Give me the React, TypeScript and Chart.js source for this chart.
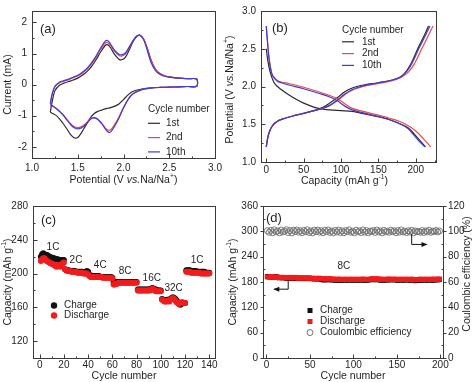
import React, { useEffect, useRef } from 'react';
import { Chart, registerables } from 'chart.js';

Chart.register(...registerables);

const FONT = '"Liberation Sans", Arial, Helvetica, sans-serif';
const TXT = '#1f1f1f';
const AXIS = '#3a3a3a';
const C_BLACK = '#2b2b2b';
const C_RED = '#f0474c';
const C_BLUE = '#3c3cd8';
const C_DOT_BLACK = '#121212';
const C_DOT_RED = '#f21c1c';
const C_CIRCLE = '#6e6e6e';

// ---------- (a) cyclic voltammetry ----------
const cvUpPotential = [1.20,1.22,1.25,1.30,1.35,1.40,1.45,1.50,1.55,1.60,1.65,1.70,1.75,1.80,1.83,1.86,1.90,1.95,1.98,2.02,2.06,2.10,2.14,2.18,2.22,2.26,2.30,2.35,2.40,2.45,2.50,2.60,2.70,2.80];
const cvDownPotential = [2.80,2.70,2.60,2.50,2.40,2.30,2.20,2.10,2.05,2.00,1.95,1.90,1.86,1.83,1.80,1.76,1.72,1.68,1.65,1.62,1.58,1.54,1.50,1.46,1.42,1.38,1.34,1.30,1.26,1.22,1.20];
const cv1stUp = [-0.88,-0.55,-0.20,-0.02,0.05,0.10,0.15,0.21,0.30,0.42,0.58,0.80,1.05,1.26,1.28,1.18,0.98,0.82,0.80,0.88,1.10,1.36,1.54,1.58,1.46,1.17,0.80,0.48,0.35,0.28,0.25,0.21,0.19,0.18];
const cv1stDown = [-0.05,-0.06,-0.07,-0.08,-0.09,-0.10,-0.14,-0.22,-0.33,-0.48,-0.62,-0.70,-0.74,-0.76,-0.78,-0.82,-0.86,-0.93,-1.02,-1.15,-1.35,-1.55,-1.70,-1.71,-1.60,-1.42,-1.25,-1.10,-0.98,-0.92,-0.88];
const cv2ndUp = [-0.62,-0.32,-0.07,0.06,0.11,0.16,0.22,0.28,0.37,0.49,0.66,0.88,1.13,1.34,1.35,1.25,1.08,0.94,0.92,0.98,1.17,1.39,1.55,1.59,1.47,1.16,0.80,0.50,0.36,0.29,0.25,0.21,0.19,0.18];
const cv2ndDown = [-0.05,-0.06,-0.07,-0.08,-0.09,-0.11,-0.16,-0.30,-0.47,-0.73,-1.04,-1.30,-1.45,-1.46,-1.39,-1.23,-1.11,-1.06,-1.08,-1.15,-1.27,-1.35,-1.38,-1.35,-1.25,-1.11,-0.96,-0.85,-0.75,-0.67,-0.64];
const cv10thUp = [-0.60,-0.30,-0.05,0.08,0.13,0.18,0.24,0.30,0.40,0.52,0.70,0.92,1.18,1.40,1.41,1.30,1.12,0.98,0.96,1.02,1.20,1.40,1.55,1.60,1.45,1.10,0.72,0.45,0.33,0.27,0.24,0.21,0.19,0.18];
const cv10thDown = [-0.05,-0.06,-0.07,-0.08,-0.09,-0.11,-0.16,-0.30,-0.48,-0.75,-1.08,-1.35,-1.52,-1.52,-1.42,-1.25,-1.12,-1.07,-1.09,-1.17,-1.30,-1.39,-1.42,-1.39,-1.28,-1.13,-0.98,-0.86,-0.76,-0.68,-0.65];
const cycleLabels = ['1st', '2nd', '10th'];

// ---------- (b) charge / discharge profiles ----------
const bDisCap1 = [0,2,5,10,15,20,30,40,50,60,70,85,100,115,130,150,165,180,190,198,205,213];
const bDisV1 = [2.50,2.35,2.20,2.06,2.00,1.96,1.89,1.83,1.78,1.74,1.71,1.69,1.68,1.67,1.64,1.60,1.56,1.50,1.45,1.37,1.29,1.20];
const bDisCap2 = [0,2,4,7,10,15,20,30,50,70,85,95,105,115,130,150,165,180,190,200,210,220];
const bDisV2 = [2.80,2.56,2.36,2.19,2.13,2.08,2.06,2.04,1.99,1.93,1.88,1.84,1.77,1.71,1.67,1.62,1.58,1.53,1.48,1.41,1.31,1.20];
const bDisCap10 = [0,2,4,7,10,15,20,30,50,70,85,95,105,115,130,150,165,180,190,198,205,212];
const bDisV10 = [2.80,2.55,2.35,2.18,2.12,2.07,2.05,2.02,1.97,1.91,1.86,1.81,1.74,1.69,1.65,1.60,1.56,1.50,1.44,1.35,1.27,1.20];
const bChgCap1 = [0,2,5,10,15,25,40,60,75,85,95,105,115,130,150,170,180,188,195,203,210,217];
const bChgV1 = [1.20,1.32,1.42,1.50,1.54,1.58,1.62,1.67,1.72,1.78,1.85,1.93,1.98,2.02,2.05,2.09,2.13,2.21,2.33,2.51,2.65,2.80];
const bChgCap2 = [0,2,5,10,15,25,40,60,75,85,95,105,115,130,150,170,180,190,198,206,214,223];
const bChgV2 = [1.20,1.32,1.42,1.50,1.54,1.58,1.62,1.67,1.71,1.75,1.81,1.89,1.95,2.00,2.04,2.08,2.12,2.19,2.30,2.46,2.62,2.80];
const bChgCap10 = [0,2,5,10,15,25,40,60,75,85,95,105,115,130,150,170,180,188,195,203,210,219];
const bChgV10 = [1.20,1.32,1.42,1.50,1.54,1.58,1.62,1.67,1.71,1.75,1.82,1.90,1.96,2.01,2.05,2.09,2.13,2.20,2.31,2.48,2.62,2.80];

// ---------- (c) rate capability ----------
const cCharge = [
  220,223,224,223,222,222,221,220,219,219,218,218,217,217,217,216,216,216,216,216,
  205,204,204,204,203,203,203,203,203,202,202,202,202,202,202,201,201,202,203,202,
  198,198,197,197,197,197,197,197,197,196,196,196,196,196,196,196,196,196,196,195,
  190,190,190,190,190,190,190,190,190,190,190,190,190,190,190,190,190,190,190,190,
  181,181,181,181,181,181,181,181,181,181,181,182,183,182,181,181,180,180,180,180,
  170,169,168,168,169,169,169,170,171,172,171,170,168,166,164,163,164,165,165,165,
  204,204,204,204,203,203,203,203,203,202,202,202,202,202,202,202,201,201,201,201,
];
const cDischarge = [
  215,217,218,218,216,215,214,213,212,212,211,210,209,208,210,209,208,211,212,213,
  205,204,203,203,203,202,202,202,202,202,201,201,201,201,201,200,200,200,200,199,
  197,196,196,196,196,196,196,196,196,196,196,195,195,195,195,195,195,195,195,194,
  187,187,188,188,189,189,189,189,189,189,189,189,189,189,189,189,189,189,189,189,
  180,180,180,180,180,180,180,180,180,180,180,181,182,181,180,179,179,179,179,179,
  169,168,167,167,167,168,167,169,170,171,170,168,166,165,164,165,166,166,165,165,
  202,202,202,202,201,201,201,201,201,201,201,201,200,200,200,200,200,200,200,200,
];
const cRateLabels = ['1C', '2C', '4C', '8C', '16C', '32C', '1C'];
const cRateLabelCycle = [11, 30, 50, 70.5, 92.5, 110.5, 130];
const cRateLabelCap = [231, 215.5, 210, 203, 194, 183, 215.5];

// ---------- (d) long cycling at 8C (every second cycle) ----------
const dCharge = [
  193,193,192,191,192,193,191,190,191,190,
  190,189,188,190,189,188,190,189,188,189,
  189,188,189,188,189,188,188,187,188,187,
  188,186,185,185,186,185,186,185,185,184,
  185,184,185,184,185,185,184,185,185,184,
  185,185,184,185,185,184,185,184,185,185,
  186,186,185,186,186,184,185,184,185,185,
  185,185,186,185,185,184,185,185,184,185,
  185,185,184,185,185,183,184,184,185,184,
  185,185,184,185,185,184,185,185,185,186,
];
const dDischarge = [
  192,191,193,192,191,192,191,190,191,190,
  191,190,190,191,190,190,191,190,189,190,
  190,189,190,189,190,189,189,188,189,188,
  189,188,188,187,188,187,188,187,187,186,
  187,186,187,186,186,187,186,186,187,186,
  186,187,186,186,187,186,187,186,186,187,
  188,187,187,188,187,186,187,186,186,187,
  187,186,187,186,187,186,186,187,186,186,
  187,186,186,187,186,185,186,186,187,186,
  186,187,186,186,187,186,187,186,187,187,
];
const dEfficiency = [
  100.5,99.2,100.8,98.9,101.2,99.6,100.3,98.8,101.0,99.5,
  100.2,101.3,99.0,100.6,98.7,100.9,99.8,101.1,99.3,100.4,
  98.9,100.7,99.6,101.2,99.1,100.3,98.8,100.9,99.7,101.0,
  99.4,100.5,98.9,100.8,99.6,101.1,99.2,100.2,98.8,100.7,
  99.5,101.0,99.1,100.4,98.9,100.6,99.7,101.2,99.3,100.1,
  98.8,100.9,99.6,100.3,99.0,101.1,99.4,100.6,98.9,100.2,
  99.8,100.7,99.1,101.0,99.5,100.3,98.8,100.8,99.6,100.1,
  99.2,100.9,99.7,100.4,98.9,100.6,99.3,101.1,99.5,100.2,
  99.0,100.5,99.4,100.8,98.8,100.3,99.7,99.9,99.3,100.6,
  99.1,100.4,99.6,100.9,99.2,100.1,99.8,100.7,99.5,100.3,
];

// ---------- helpers ----------
const pts = (xs: number[], ys: number[]) => xs.map((x, i) => ({ x, y: ys[i] }));
const cvX = [...cvUpPotential, ...cvDownPotential];
const cCycles = cCharge.map((_, i) => i + 1);
const dCycles = dDischarge.map((_, i) => 2 * i + 1);

const common: any = {
  animation: false,
  responsive: false,
  maintainAspectRatio: false,
  events: [],
  plugins: { legend: { display: false }, tooltip: { enabled: false } },
};

function axis(min: number, max: number, step: number, fmt: (v: number) => string, size: number, pad: number, position: string, extra: any = {}) {
  return {
    type: 'linear',
    position,
    min,
    max,
    afterFit: (s: any) => {
      if (s.isHorizontal()) s.height = size;
      else s.width = size;
    },
    grid: { display: false, drawTicks: false },
    border: { display: false },
    ticks: {
      stepSize: step,
      includeBounds: false,
      autoSkip: false,
      maxRotation: 0,
      minRotation: 0,
      padding: pad,
      color: TXT,
      font: { family: FONT, size: 10 },
      callback: (v: any) => fmt(Number(v)),
    },
    ...extra,
  };
}

type Seg = [string, string?];

function rich(ctx: CanvasRenderingContext2D, segs: Seg[], x: number, y: number, size: number, rot = 0, align = 'center') {
  ctx.save();
  ctx.translate(x, y);
  ctx.rotate(rot);
  ctx.fillStyle = TXT;
  ctx.textBaseline = 'middle';
  ctx.textAlign = 'left';
  const fontFor = (s?: string) => `${s === 'i' ? 'italic ' : ''}${s === 's' ? size * 0.65 : size}px ${FONT}`;
  let total = 0;
  const widths = segs.map(([t, s]) => {
    ctx.font = fontFor(s);
    const w = ctx.measureText(t).width;
    total += w;
    return w;
  });
  let cx = align === 'center' ? -total / 2 : align === 'right' ? -total : 0;
  segs.forEach(([t, s], i) => {
    ctx.font = fontFor(s);
    ctx.fillText(t, cx, s === 's' ? -size * 0.4 : 0);
    cx += widths[i];
  });
  ctx.restore();
}

function label(ctx: CanvasRenderingContext2D, t: string, x: number, y: number, size: number, align: CanvasTextAlign = 'left') {
  ctx.save();
  ctx.fillStyle = TXT;
  ctx.font = `${size}px ${FONT}`;
  ctx.textAlign = align;
  ctx.textBaseline = 'middle';
  ctx.fillText(t, x, y);
  ctx.restore();
}

type TickSpec = { axis: string; side: 'left' | 'right' | 'bottom'; major: number; minor: number };

function frame(chart: any, specs: TickSpec[]) {
  const { ctx, chartArea: a } = chart;
  ctx.save();
  ctx.strokeStyle = AXIS;
  ctx.lineWidth = 1;
  const L = Math.round(a.left) + 0.5, R = Math.round(a.right) + 0.5;
  const T = Math.round(a.top) + 0.5, B = Math.round(a.bottom) + 0.5;
  ctx.strokeRect(L, T, R - L, B - T);
  for (const s of specs) {
    const sc = chart.scales[s.axis];
    const vals: number[] = sc.ticks.map((t: any) => t.value);
    const step = vals[1] - vals[0];
    const minors = vals.map((v) => v + step / 2);
    minors.push(vals[0] - step / 2);
    const draw = (v: number, len: number) => {
      if (v < sc.min - 1e-9 || v > sc.max + 1e-9) return;
      const p = Math.round(sc.getPixelForValue(v)) + 0.5;
      ctx.beginPath();
      if (s.side === 'bottom') {
        ctx.moveTo(p, B);
        ctx.lineTo(p, B - len);
      } else if (s.side === 'left') {
        ctx.moveTo(L, p);
        ctx.lineTo(L + len, p);
      } else {
        ctx.moveTo(R, p);
        ctx.lineTo(R - len, p);
      }
      ctx.stroke();
    };
    vals.forEach((v) => draw(v, s.major));
    minors.forEach((v) => draw(v, s.minor));
  }
  ctx.restore();
}

function lineLegend(ctx: CanvasRenderingContext2D, x: number, y: number, step: number, textX: number, colors: string[]) {
  label(ctx, 'Cycle number', x, y, 10);
  cycleLabels.forEach((t, i) => {
    const yy = y + step * (i + 1);
    ctx.save();
    ctx.strokeStyle = colors[i];
    ctx.lineWidth = 1.2;
    ctx.beginPath();
    ctx.moveTo(x, yy);
    ctx.lineTo(x + 12, yy);
    ctx.stroke();
    ctx.restore();
    label(ctx, t, textX, yy, 10);
  });
}

function arrow(chart: any, data: [number, number][], yAxis: string) {
  const { ctx } = chart;
  const xs = chart.scales.x, ys = chart.scales[yAxis];
  const p = data.map(([x, y]) => [xs.getPixelForValue(x), ys.getPixelForValue(y)]);
  ctx.save();
  ctx.strokeStyle = '#111';
  ctx.fillStyle = '#111';
  ctx.lineWidth = 1;
  ctx.beginPath();
  ctx.moveTo(p[0][0], p[0][1]);
  for (let i = 1; i < p.length; i++) ctx.lineTo(p[i][0], p[i][1]);
  ctx.stroke();
  const [ex, ey] = p[p.length - 1];
  const [px, py] = p[p.length - 2];
  const ang = Math.atan2(ey - py, ex - px);
  ctx.translate(ex, ey);
  ctx.rotate(ang);
  ctx.beginPath();
  ctx.moveTo(1, 0);
  ctx.lineTo(-5, -2.5);
  ctx.lineTo(-5, 2.5);
  ctx.closePath();
  ctx.fill();
  ctx.restore();
}

const decor = (fn: (chart: any, ctx: CanvasRenderingContext2D, a: any) => void) => ({
  id: 'decor',
  afterDraw(chart: any) {
    fn(chart, chart.ctx, chart.chartArea);
  },
});

const POT_TITLE: Seg[] = [['Potential (V '], ['vs.', 'i'], ['Na/Na'], ['+', 's'], [')']];
const CAP_TITLE: Seg[] = [['Capacity (mAh g'], ['-1', 's'], [')']];

// ---------- configs ----------
function configA(): any {
  const ln = (up: number[], down: number[], color: string, order: number) => ({
    data: pts(cvX, [...up, ...down]),
    showLine: true,
    borderColor: color,
    borderWidth: 1.2,
    pointRadius: 0,
    tension: 0.3,
    fill: false,
    order,
  });
  return {
    type: 'scatter',
    data: {
      datasets: [
        ln(cv1stUp, cv1stDown, C_BLACK, 2),
        ln(cv2ndUp, cv2ndDown, C_RED, 1),
        ln(cv10thUp, cv10thDown, C_BLUE, 0),
      ],
    },
    options: {
      ...common,
      layout: { padding: { top: 5, right: 13, left: 0, bottom: 0 } },
      scales: {
        x: axis(1, 3, 0.5, (v) => v.toFixed(1), 33, 4, 'bottom'),
        y: axis(-2.36, 2.37, 1, (v) => String(v), 32, 5, 'left'),
      },
    },
    plugins: [
      decor((chart, ctx, a) => {
        frame(chart, [
          { axis: 'x', side: 'bottom', major: 4, minor: 2 },
          { axis: 'y', side: 'left', major: 4, minor: 2 },
        ]);
        rich(ctx, POT_TITLE, (a.left + a.right) / 2, a.bottom + 22, 10.5);
        rich(ctx, [['Current (mA)']], a.left - 24, (a.top + a.bottom) / 2, 10.5, -Math.PI / 2);
        label(ctx, '(a)', a.left + 8, a.top + 18, 13);
        lineLegend(ctx, a.left + 116, a.top + 98, 14.3, a.left + 134, [C_BLACK, C_RED, C_BLUE]);
      }),
    ],
  };
}

function configB(): any {
  const ln = (xs: number[], ys: number[], color: string, order: number) => ({
    data: pts(xs, ys),
    showLine: true,
    borderColor: color,
    borderWidth: 1.2,
    pointRadius: 0,
    cubicInterpolationMode: 'monotone',
    fill: false,
    order,
  });
  return {
    type: 'scatter',
    data: {
      datasets: [
        ln(bDisCap1, bDisV1, C_BLACK, 2),
        ln(bChgCap1, bChgV1, C_BLACK, 2),
        ln(bDisCap2, bDisV2, C_RED, 1),
        ln(bChgCap2, bChgV2, C_RED, 1),
        ln(bDisCap10, bDisV10, C_BLUE, 0),
        ln(bChgCap10, bChgV10, C_BLUE, 0),
      ],
    },
    options: {
      ...common,
      layout: { padding: { top: 5, right: 38, left: 0, bottom: 0 } },
      scales: {
        x: axis(-7, 227, 50, (v) => String(v), 29, 2, 'bottom'),
        y: axis(1, 3, 0.5, (v) => v.toFixed(1), 39, 5, 'left'),
      },
    },
    plugins: [
      decor((chart, ctx, a) => {
        frame(chart, [
          { axis: 'x', side: 'bottom', major: 4, minor: 2 },
          { axis: 'y', side: 'left', major: 4, minor: 2 },
        ]);
        rich(ctx, CAP_TITLE, (a.left + a.right) / 2 - 4, a.bottom + 19, 10.5);
        rich(ctx, POT_TITLE, a.left - 31, (a.top + a.bottom) / 2 + 3, 10.5, -Math.PI / 2);
        label(ctx, '(b)', a.left + 11, a.top + 17, 13);
        lineLegend(ctx, a.left + 81, a.top + 19, 11.8, a.left + 101, [C_BLACK, C_RED, C_BLUE]);
      }),
    ],
  };
}

function configC(): any {
  return {
    type: 'scatter',
    data: {
      datasets: [
        { data: pts(cCycles, cCharge), pointRadius: 3, pointBackgroundColor: C_DOT_BLACK, pointBorderWidth: 0, showLine: false, order: 1 },
        { data: pts(cCycles, cDischarge), pointRadius: 3, pointBackgroundColor: C_DOT_RED, pointBorderWidth: 0, showLine: false, order: 0 },
      ],
    },
    options: {
      ...common,
      layout: { padding: { top: 15, right: 13, left: 0, bottom: 0 } },
      scales: {
        x: axis(-5.5, 144.7, 20, (v) => String(v), 24, 1, 'bottom'),
        y: axis(100, 280, 40, (v) => String(v), 33, 5, 'left'),
      },
    },
    plugins: [
      decor((chart, ctx, a) => {
        frame(chart, [
          { axis: 'x', side: 'bottom', major: 4, minor: 2 },
          { axis: 'y', side: 'left', major: 4, minor: 2 },
        ]);
        rich(ctx, [['Cycle number']], (a.left + a.right) / 2, a.bottom + 18.5, 10.5);
        rich(ctx, CAP_TITLE, a.left - 25, (a.top + a.bottom) / 2, 10.5, -Math.PI / 2);
        label(ctx, '(c)', a.left + 8, a.top + 14, 13);
        const xs = chart.scales.x, ys = chart.scales.y;
        cRateLabels.forEach((t, i) => {
          label(ctx, t, xs.getPixelForValue(cRateLabelCycle[i]), ys.getPixelForValue(cRateLabelCap[i]), 10, 'center');
        });
        const lx = a.left + 21;
        [C_DOT_BLACK, C_DOT_RED].forEach((c, i) => {
          const yy = a.top + 99.5 + i * 10;
          ctx.save();
          ctx.fillStyle = c;
          ctx.beginPath();
          ctx.arc(lx, yy, 3.2, 0, Math.PI * 2);
          ctx.fill();
          ctx.restore();
          label(ctx, i === 0 ? 'Charge' : 'Discharge', a.left + 31, yy, 10);
        });
      }),
    ],
  };
}

function configD(): any {
  return {
    type: 'scatter',
    data: {
      datasets: [
        { data: pts(dCycles, dCharge), pointStyle: 'rect', pointRadius: 3.5, pointBackgroundColor: C_DOT_BLACK, pointBorderWidth: 0, showLine: false, yAxisID: 'y', order: 2 },
        { data: pts(dCycles, dDischarge), pointStyle: 'rect', pointRadius: 3.5, pointBackgroundColor: C_DOT_RED, pointBorderWidth: 0, showLine: false, yAxisID: 'y', order: 1 },
        { data: pts(dCycles, dEfficiency), pointStyle: 'circle', pointRadius: 3, pointBackgroundColor: 'rgba(255,255,255,0)', pointBorderColor: C_CIRCLE, pointBorderWidth: 0.9, showLine: false, yAxisID: 'y1', order: 0 },
      ],
    },
    options: {
      ...common,
      layout: { padding: { top: 15, right: 0, left: 0, bottom: 0 } },
      scales: {
        x: axis(-4, 203, 50, (v) => String(v), 24, 1, 'bottom'),
        y: axis(0, 360, 60, (v) => String(v), 41, 5, 'left'),
        y1: axis(0, 120, 20, (v) => String(v), 31, 5, 'right'),
      },
    },
    plugins: [
      decor((chart, ctx, a) => {
        frame(chart, [
          { axis: 'x', side: 'bottom', major: 4, minor: 2 },
          { axis: 'y', side: 'left', major: -3, minor: 2 },
          { axis: 'y1', side: 'right', major: -3, minor: 2 },
        ]);
        rich(ctx, [['Cycle number']], (a.left + a.right) / 2, a.bottom + 18.5, 10.5);
        rich(ctx, CAP_TITLE, a.left - 30, (a.top + a.bottom) / 2, 10.5, -Math.PI / 2);
        rich(ctx, [['Coulombic efficiency (%)']], a.right + 24, (a.top + a.bottom) / 2 - 8, 10.5, -Math.PI / 2);
        label(ctx, '(d)', a.left + 3, a.top + 12, 13);
        const xs = chart.scales.x, ys = chart.scales.y;
        label(ctx, '8C', xs.getPixelForValue(89), ys.getPixelForValue(218), 10, 'center');
        arrow(chart, [[25, 182], [25, 163], [9, 163]], 'y');
        arrow(chart, [[167, 293], [167, 269], [184, 269]], 'y');
        const lx = a.left + 47;
        const rows = ['Charge', 'Discharge', 'Coulombic efficiency'];
        rows.forEach((t, i) => {
          const yy = a.top + 104.5 + i * 11;
          ctx.save();
          if (i < 2) {
            ctx.fillStyle = i === 0 ? C_DOT_BLACK : C_DOT_RED;
            ctx.fillRect(lx - 2.5, yy - 2.5, 5, 5);
          } else {
            ctx.strokeStyle = C_CIRCLE;
            ctx.lineWidth = 1;
            ctx.beginPath();
            ctx.arc(lx, yy, 3, 0, Math.PI * 2);
            ctx.stroke();
          }
          ctx.restore();
          label(ctx, t, a.left + 57, yy, 10);
        });
      }),
    ],
  };
}

function ChartBox({ left, top, width, height, make }: { left: number; top: number; width: number; height: number; make: () => any }) {
  const ref = useRef<HTMLCanvasElement>(null);
  useEffect(() => {
    const chart = new Chart(ref.current as HTMLCanvasElement, make());
    return () => chart.destroy();
  }, []);
  return (
    <canvas
      ref={ref}
      width={width}
      height={height}
      style={{ position: 'absolute', left, top, width, height, display: 'block' }}
    />
  );
}

export default function App() {
  return (
    <div style={{ position: 'fixed', left: 0, top: 0, width: 474, height: 382, background: '#fff', overflow: 'hidden' }}>
      <ChartBox left={0} top={0} width={228} height={191} make={configA} />
      <ChartBox left={222} top={0} width={252} height={191} make={configB} />
      <ChartBox left={0} top={191} width={228} height={191} make={configC} />
      <ChartBox left={222} top={191} width={252} height={191} make={configD} />
    </div>
  );
}
